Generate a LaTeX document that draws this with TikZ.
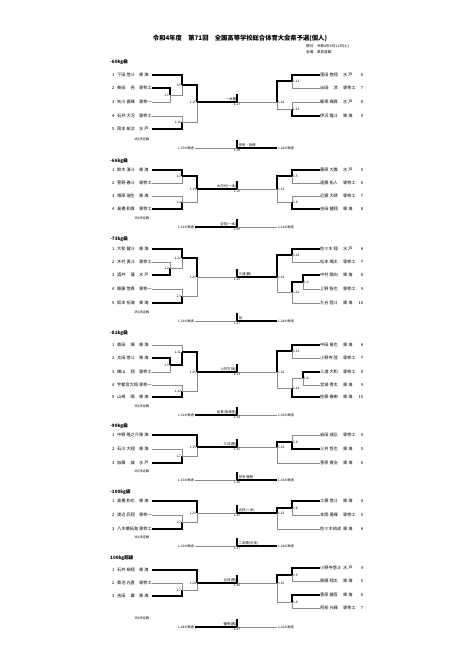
\documentclass[tikz,border=0pt]{standalone}
\usepackage{fontspec}
\setmainfont{Noto Sans CJK JP}
\usetikzlibrary{calc}
\tikzset{
  win/.style={line width=1.4pt},
  lose/.style={line width=.45pt, black!45},
  plL/.style={anchor=west, inner sep=0pt, font=\fontsize{4.2}{5}\selectfont},
  plR/.style={anchor=west, inner sep=0pt, font=\fontsize{4.2}{5}\selectfont},
  mno/.style={inner sep=.8pt, font=\fontsize{3.2}{4}\selectfont},
  res/.style={inner sep=.6pt, font=\fontsize{3.4}{4}\selectfont},
  cls/.style={anchor=west, inner sep=0pt, font=\bfseries\fontsize{4.6}{5}\selectfont},
  ttl/.style={inner sep=0pt, font=\bfseries\fontsize{6.3}{7}\selectfont},
  inf/.style={anchor=west, inner sep=0pt, font=\fontsize{3.6}{4}\selectfont},
}
% left / right entrant
\newcommand{\pl}[5]{\node[plL] (#1) at (112,#2)
  {\makebox[5pt][l]{#3}\makebox[22pt][l]{#4}\makebox[13pt][l]{#5}};}
\newcommand{\pr}[5]{\node[plR] (#1) at (320,#2)
  {\makebox[23pt][l]{#4}\makebox[13pt][l]{#5}\makebox[7pt][r]{#3}};}
% bout: anchor of number, winner, loser, junction, x, y, number
\newcommand{\bout}[7]{
  \coordinate (#4) at (#5,#6);
  \draw[lose] (#3) -| (#4);
  \draw[win] (#2) -| (#4);
  \node[mno,anchor=#1] (#4n) at (#4) {#7};
}
% final: left junction, right junction, name, y, winner side, result, number
\newcommand{\fin}[7]{
  \coordinate (#3) at (237,#4);
  \coordinate (#3t) at (237,#4-8);
  \ifx L#5
    \draw[lose] (#2) -- (#3); \draw[win] (#1) -- (#3);
    \node[res,anchor=south east] (#3r) at (#3) {#6};
  \else
    \draw[lose] (#1) -- (#3); \draw[win] (#2) -- (#3);
    \node[res,anchor=south west,xshift=1pt] (#3r) at (#3) {#6};
  \fi
  \draw[win] (#3) -- (#3t);
  \node[mno,anchor=north] (#3n) at (#3) {#7};
}
% third place: name, y, winner side, left text, right text, result, number
\newcommand{\third}[7]{
  \coordinate (#1l) at (195,#2);
  \coordinate (#1c) at (237,#2);
  \coordinate (#1r) at (277,#2);
  \coordinate (#1t) at (237,#2-8);
  \node[mno,anchor=east] (#1a) at (#1l) {#4};
  \node[mno,anchor=west] (#1b) at (#1r) {#5};
  \node[mno,anchor=east] (#1h) at (150,#2-9) {3位決定戦};
  \ifx L#3
    \draw[win] (#1l) -- (#1c); \draw[lose] (#1r) -- (#1c);
    \node[res,anchor=south east] (#1x) at (#1c) {#6};
  \else
    \draw[lose] (#1l) -- (#1c); \draw[win] (#1r) -- (#1c);
    \node[res,anchor=south west,xshift=1pt] (#1x) at (#1c) {#6};
  \fi
  \draw[win] (#1c) -- (#1t);
  \node[mno,anchor=north] (#1n) at (#1c) {#7};
}
\begin{document}
\begin{tikzpicture}[x=1pt,y=-1pt]
\fill[white] (0,0) rectangle (474,669);
\useasboundingbox (0,0) rectangle (474,669);
\node[ttl] (title) at (240,38) {令和4年度　第71回　全国高等学校総合体育大会県予選(個人)};
\node[inf] (date) at (306,46) {期日　令和4年6月11日(土)};
\node[inf] (place) at (306,52) {会場　県武道館};

% -60kg
\node[cls] (a) at (110,62) {-60kg級};
\pl{aL1}{75}{1}{下田 悠斗}{東 海}
\pl{aL2}{88}{2}{柴田 　亮}{専修工}
\pl{aL3}{102}{3}{矢川 直輝}{専修一}
\pl{aL4}{116}{4}{石井 大河}{専修工}
\pl{aL5}{129}{5}{岡本 航汰}{水 戸}
\pr{aR1}{75}{6}{窪田 悠翔}{水 戸}
\pr{aR2}{88}{7}{出田 　涼}{専修工}
\pr{aR3}{102}{8}{飯塚 颯真}{水 戸}
\pr{aR4}{116}{9}{伊沢 龍斗}{東 海}
\bout{east}{aL2}{aL3}{a1}{170}{95}{1-1}
\bout{east}{aL1}{a1}{a2}{182}{85}{1-9}
\bout{east}{aL5}{aL4}{a3}{182}{122}{1-10}
\bout{east}{a2}{a3}{a4}{197}{102}{1-15}
\bout{west}{aR1}{aR2}{a5}{292}{81}{1-11}
\bout{west}{aR4}{aR3}{a6}{292}{109}{1-12}
\bout{west}{a5}{a6}{a7}{277}{102}{1-16}
\fin{a4}{a7}{aF}{102}{L}{一本勝}{1-17}
\third{aT}{148}{R}{1-15の敗者}{1-16の敗者}{技有・指導}{1-18}

% -66kg
\node[cls] (b) at (110,161) {-66kg級};
\pl{bL1}{170}{1}{鈴木 湊斗}{東 海}
\pl{bL2}{183}{2}{菅野 春斗}{専修工}
\pl{bL3}{196}{3}{相原 瑞生}{東 海}
\pl{bL4}{209}{4}{高橋 和真}{専修工}
\pr{bR1}{170}{5}{藤原 大雅}{水 戸}
\pr{bR2}{183}{6}{遠藤 拓人}{専修工}
\pr{bR3}{196}{7}{近藤 大晴}{専修工}
\pr{bR4}{209}{8}{吉田 健翔}{東 海}
\bout{east}{bL1}{bL2}{b1}{182}{176}{1-3}
\bout{east}{bL4}{bL3}{b2}{182}{202}{1-4}
\bout{east}{b1}{b2}{b3}{197}{189}{1-13}
\bout{west}{bR1}{bR2}{b4}{292}{176}{1-5}
\bout{west}{bR4}{bR3}{b5}{292}{202}{1-6}
\bout{west}{b4}{b5}{b6}{277}{189}{1-14}
\fin{b3}{b6}{bF}{189}{L}{大内刈(一本)}{1-19}
\third{bT}{227}{L}{1-13の敗者}{1-14の敗者}{合技(一本)}{1-20}

% -73kg
\node[cls] (c) at (110,239) {-73kg級};
\pl{cL1}{249}{1}{大和 健斗}{東 海}
\pl{cL2}{262}{2}{木村 勇斗}{専修工}
\pl{cL3}{275}{3}{酒井 　蓮}{水 戸}
\pl{cL4}{289}{4}{齋藤 悠真}{専修一}
\pl{cL5}{303}{5}{坂本 拓海}{東 海}
\pr{cR1}{249}{6}{佐々木 翔}{水 戸}
\pr{cR2}{262}{7}{松本 颯太}{専修工}
\pr{cR3}{275}{8}{中村 陽向}{東 海}
\pr{cR4}{289}{9}{上野 智也}{専修工}
\pr{cR5}{303}{10}{九谷 陸斗}{東 海}
\bout{east}{cL3}{cL2}{c1}{170}{268}{1-2}
\bout{east}{cL1}{c1}{c2}{182}{258}{1-21}
\bout{east}{cL5}{cL4}{c3}{182}{296}{1-3}
\bout{east}{c2}{c3}{c4}{197}{277}{1-23}
\bout{west}{cR1}{cR2}{c5}{292}{255}{1-22}
\bout{west}{cR3}{cR4}{c6}{303}{282}{1-4}
\bout{west}{c6}{cR5}{c7}{292}{292}{1-21}
\bout{west}{c5}{c7}{c8}{277}{277}{1-24}
\fin{c4}{c8}{cF}{277}{R}{三浦(勝)}{1-25}
\third{cT}{321}{R}{1-23の敗者}{1-24の敗者}{技}{1-27}

% -81kg
\node[cls] (d) at (110,333) {-81kg級};
\pl{dL1}{345}{1}{森田 　颯}{東 海}
\pl{dL2}{358}{2}{太田 悠斗}{東 海}
\pl{dL3}{372}{3}{横山 　翔}{専修工}
\pl{dL4}{385}{4}{宇都宮大翔}{専修一}
\pl{dL5}{397}{5}{山崎 　陽}{東 海}
\pr{dR1}{345}{6}{中田 竜也}{東 海}
\pr{dR2}{358}{7}{小野寺 陸}{専修工}
\pr{dR3}{372}{8}{三浦 大和}{専修工}
\pr{dR4}{385}{9}{宮城 啓太}{東 海}
\pr{dR5}{397}{10}{佐藤 春樹}{東 海}
\bout{east}{dL2}{dL3}{d1}{170}{365}{1-5}
\bout{east}{d1}{dL1}{d2}{182}{352}{1-11}
\bout{east}{dL5}{dL4}{d3}{182}{391}{1-12}
\bout{east}{d2}{d3}{d4}{197}{372}{1-31}
\bout{west}{dR1}{dR2}{d5}{292}{351}{1-13}
\bout{west}{dR3}{dR4}{d6}{303}{378}{1-6}
\bout{west}{dR5}{d6}{d7}{292}{388}{1-14}
\bout{west}{d5}{d7}{d8}{277}{372}{1-32}
\fin{d4}{d8}{dF}{372}{L}{上四方(固)}{1-33}
\third{dT}{415}{L}{1-31の敗者}{1-32の敗者}{延長(指導差)}{1-34}

% -90kg
\node[cls] (e) at (110,426) {-90kg級};
\pl{eL1}{435}{1}{中野 隆之介}{東 海}
\pl{eL2}{449}{2}{石川 大翔}{東 海}
\pl{eL3}{463}{3}{加藤 　誠}{水 戸}
\pr{eR1}{435}{4}{岩田 成弘}{専修工}
\pr{eR2}{449}{5}{三井 哲也}{東 海}
\pr{eR3}{463}{6}{菅原 寛治}{東 海}
\bout{east}{eL3}{eL2}{e1}{182}{456}{1-7}
\bout{east}{eL1}{e1}{e2}{197}{447}{1-15}
\bout{west}{eR2}{eR1}{e3}{292}{442}{1-6}
\bout{west}{e3}{eR3}{e4}{277}{447}{1-16}
\fin{e2}{e4}{eF}{447}{L}{三井(勝)}{1-35}
\third{eT}{480}{R}{1-15の敗者}{1-16の敗者}{技有 優勢}{1-36}

% -100kg
\node[cls] (f) at (110,492) {-100kg級};
\pl{fL1}{501}{1}{高橋 和也}{東 海}
\pl{fL2}{515}{2}{渡辺 匠翔}{専修一}
\pl{fL3}{529}{3}{八木橋拓海}{専修工}
\pr{fR1}{501}{4}{工藤 悠斗}{東 海}
\pr{fR2}{515}{5}{本間 勇輝}{専修工}
\pr{fR3}{529}{6}{佐々木琉成}{東 海}
\bout{east}{fL3}{fL2}{f1}{182}{522}{1-7}
\bout{east}{fL1}{f1}{f2}{197}{513}{1-23}
\bout{west}{fR1}{fR2}{f3}{292}{508}{1-8}
\bout{west}{f3}{fR3}{f4}{277}{513}{1-23}
\fin{f2}{f4}{fF}{513}{R}{合技(一本)}{1-45}
\third{fT}{546}{R}{1-23の敗者}{1-24の敗者}{二本勝(合技)}{1-37}

% +100kg
\node[cls] (g) at (110,558) {100kg超級};
\pl{gL1}{570}{1}{石井 裕翔}{東 海}
\pl{gL2}{583}{2}{菊池 光喜}{専修工}
\pl{gL3}{596}{3}{吉田 　翼}{東 海}
\pr{gR1}{568}{4}{小野寺悠斗}{水 戸}
\pr{gR2}{581}{5}{齋藤 翔太}{東 海}
\pr{gR3}{595}{6}{菅原 健吾}{東 海}
\pr{gR4}{608}{7}{阿部 光輝}{専修工}
\bout{east}{gL3}{gL2}{g1}{182}{590}{1-7}
\bout{east}{gL1}{g1}{g2}{197}{583}{1-24}
\bout{west}{gR1}{gR2}{g3}{292}{575}{1-9}
\bout{west}{gR3}{gR4}{g4}{292}{602}{1-8}
\bout{west}{g3}{g4}{g5}{277}{583}{1-10}
\fin{g2}{g5}{gF}{583}{L}{合技(勝)}{1-46}
\third{gT}{627}{L}{1-24の敗者}{1-10の敗者}{優勢(勝)}{1-47}
\end{tikzpicture}
\end{document}
